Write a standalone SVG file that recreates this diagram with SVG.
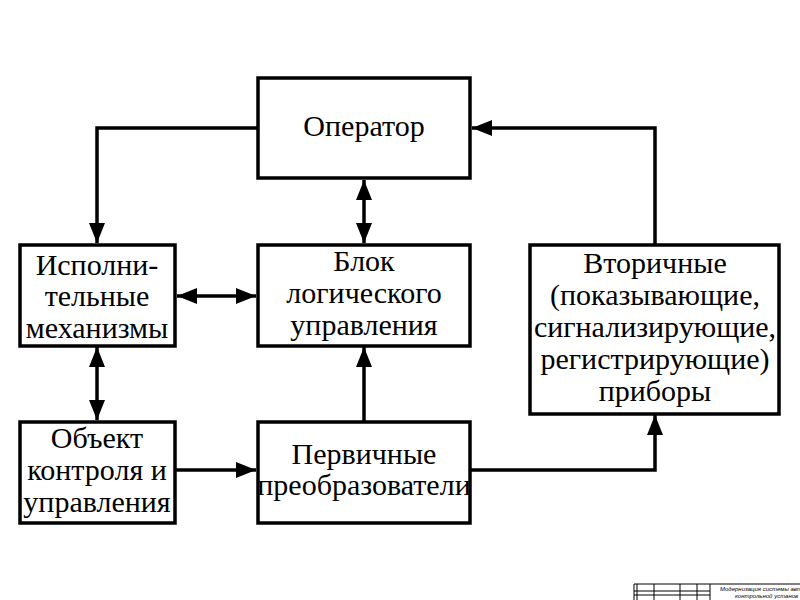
<svg xmlns="http://www.w3.org/2000/svg" width="800" height="600" viewBox="0 0 800 600">
<defs>
<style>
.box{fill:#fff;stroke:#000;stroke-width:3.5}
.t{font-family:"Liberation Serif","Times New Roman",serif;font-size:30px;text-anchor:middle;fill:#000}
.c{fill:none;stroke:#000;stroke-width:3.5}
.tb{fill:none;stroke:#000;stroke-width:1}
.tt{font-family:"Liberation Sans",Arial,sans-serif;font-size:6px;font-style:italic;fill:#000}
</style>
<marker id="ah" viewBox="0 0 20 16" refX="20" refY="8" markerWidth="20" markerHeight="16" markerUnits="userSpaceOnUse" orient="auto-start-reverse">
<path d="M0,0 L20,8 L0,16 Z" fill="#000"/>
</marker>
</defs>
<rect width="800" height="600" fill="#fff"/>
<g id="connectors">
<path class="c" d="M258,128 H97 V243" marker-end="url(#ah)"/>
<path class="c" d="M364,180 V243" marker-start="url(#ah)" marker-end="url(#ah)"/>
<path class="c" d="M177,296 H256" marker-start="url(#ah)" marker-end="url(#ah)"/>
<path class="c" d="M97,347 V420" marker-start="url(#ah)" marker-end="url(#ah)"/>
<path class="c" d="M175,470 H256" marker-end="url(#ah)"/>
<path class="c" d="M364,422 V347" marker-end="url(#ah)"/>
<path class="c" d="M470,470 H655 V415" marker-end="url(#ah)"/>
<path class="c" d="M655,245 V128 H472" marker-end="url(#ah)"/>
</g>
<g id="operator">
<rect class="box" x="258" y="78" width="212" height="100"/>
<text class="t" x="364" y="136">Оператор</text>
</g>
<g id="ispolnitelnye">
<rect class="box" x="20" y="245" width="155" height="101"/>
<text class="t" x="97" y="275">Исполни-</text>
<text class="t" x="97" y="306">тельные</text>
<text class="t" x="97" y="338">механизмы</text>
</g>
<g id="blok">
<rect class="box" x="258" y="245" width="212" height="101"/>
<text class="t" x="364" y="271">Блок</text>
<text class="t" x="364" y="303">логического</text>
<text class="t" x="364" y="335">управления</text>
</g>
<g id="vtorichnye">
<rect class="box" x="530" y="245" width="249" height="169"/>
<text class="t" x="655" y="273">Вторичные</text>
<text class="t" x="655" y="305">(показывающие,</text>
<text class="t" x="655" y="337">сигнализирующие,</text>
<text class="t" x="655" y="369">регистрирующие)</text>
<text class="t" x="655" y="401">приборы</text>
</g>
<g id="obekt">
<rect class="box" x="20" y="422" width="155" height="101"/>
<text class="t" x="97" y="448">Объект</text>
<text class="t" x="97" y="480">контроля и</text>
<text class="t" x="97" y="512">управления</text>
</g>
<g id="pervichnye">
<rect class="box" x="258" y="422" width="212" height="101"/>
<text class="t" x="364" y="464">Первичные</text>
<text class="t" x="364" y="495">преобразователи</text>
</g>
<g id="titleblock">
<path class="tb" d="M634,584 H800 M634,584 V600 M637,584 V600 M654,584 V600 M680,584 V600 M697,584 V600 M710,584 V600 M634,591 H710 M634,595 H710"/>
<text class="tt" x="720" y="591">Модернизация системы авто</text>
<text class="tt" x="735" y="598">контрольной установ</text>
</g>
</svg>
